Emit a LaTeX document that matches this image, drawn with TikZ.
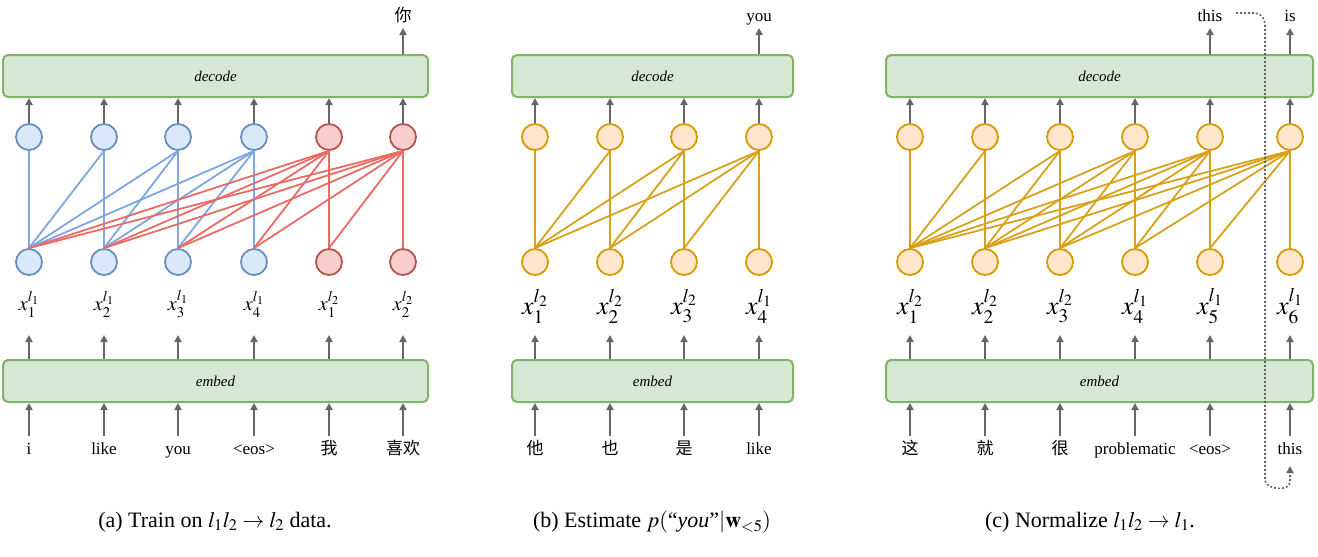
\documentclass[tikz,border=0pt]{standalone}
\usepackage{amsmath}
\usepackage{mathptmx}
\usepackage{fontspec}
\setmainfont{Liberation Serif}
\newfontfamily\cjk{Noto Sans CJK SC}
\usetikzlibrary{arrows.meta}
\definecolor{gfill}{HTML}{D5E8D4}\definecolor{gdraw}{HTML}{82B366}
\definecolor{bfill}{HTML}{DAE8FC}\definecolor{bdraw}{HTML}{6C8EBF}\definecolor{bline}{HTML}{7EA6E0}
\definecolor{rfill}{HTML}{F8CECC}\definecolor{rdraw}{HTML}{B85450}\definecolor{rline}{HTML}{EA6B66}
\definecolor{ofill}{HTML}{FFE6CC}\definecolor{odraw}{HTML}{D79B00}\definecolor{oline}{HTML}{D7A21A}
\definecolor{agray}{HTML}{666666}
\tikzset{
 box/.style={draw=gdraw,fill=gfill,line width=2pt,rounded corners=5pt,minimum height=42pt,inner sep=0pt,font=\fontsize{15}{18}\selectfont\itshape},
 cb/.style={circle,draw=bdraw,fill=bfill,line width=1.8pt,minimum size=26pt,inner sep=0pt},
 cr/.style={circle,draw=rdraw,fill=rfill,line width=1.8pt,minimum size=26pt,inner sep=0pt},
 co/.style={circle,draw=odraw,fill=ofill,line width=1.8pt,minimum size=26pt,inner sep=0pt},
 arr/.style={draw=agray,line width=2pt,-{Triangle[length=7pt,width=7pt]}},
 word/.style={font=\fontsize{17}{20}\selectfont,text height=12pt,text depth=4pt,inner sep=0pt},
 xs/.style={font=\fontsize{20}{24}\selectfont,inner sep=0pt},
 xl/.style={font=\fontsize{26}{30}\selectfont,inner sep=0pt},
 captxt/.style={font=\fontsize{22}{26}\selectfont,inner sep=0pt},
}
\begin{document}
\begin{tikzpicture}[x=1pt,y=-1pt]
\useasboundingbox (0,0) rectangle (1318,557);
% ===== panel a =====
\node[box,minimum width=425pt] (a-dec) at (215.5,76) {decode};
\node[box,minimum width=425pt] (a-emb) at (215.5,381) {embed};
\foreach \x [count=\i] in {29,104,178,254,329,403}{
  \ifnum\i<5 \def\st{cb}\else\def\st{cr}\fi
  \node[\st] (a-t\i) at (\x,137) {};
  \node[\st] (a-b\i) at (\x,262) {};
  \draw[arr] (a-t\i) -- (a-t\i |- a-dec.south);
}
\foreach \i/\s/\l in {1/1/1,2/2/1,3/3/1,4/4/1,5/1/2,6/2/2}{
  \node[xs] (a-x\i) at (a-t\i |- 0,304) {$x_{\s}^{l_{\l}}$};
  \draw[arr] (a-emb.north -| a-x\i) -- ++(0,-24);
}
\foreach \i/\w in {1/i,2/like,3/you,4/<eos>,5/{\cjk 我},6/{\cjk 喜欢}}{
  \node[word] (a-w\i) at (a-t\i |- 0,450) {\w};
  \draw[arr] (a-w\i.north) ++(0,-6) coordinate (a-c\i) -- (a-c\i |- a-emb.south);
}
\foreach \j in {1,...,6}{\foreach \i in {1,...,\j}{
  \ifnum\j<5 \def\lc{bline}\else\def\lc{rline}\fi
  \draw[\lc,line width=1.8pt] (a-t\j.south) -- (a-b\i.north);}}
\draw[arr] (a-dec.north -| a-t6) -- ++(0,-26) node[word,above=2pt] (a-o) {\cjk 你};
\node[captxt] (a-cap) at (215,522) {(a) Train on $l_1l_2\rightarrow l_2$ data.};
% ===== panel b =====
\node[box,minimum width=281pt] (b-dec) at (652.5,76) {decode};
\node[box,minimum width=281pt] (b-emb) at (652.5,381) {embed};
\foreach \x [count=\i] in {535,610,684,759}{
  \node[co] (b-t\i) at (\x,137) {};
  \node[co] (b-b\i) at (\x,262) {};
  \draw[arr] (b-t\i) -- (b-t\i |- b-dec.south);
}
\foreach \i/\s/\l in {1/1/2,2/2/2,3/3/2,4/4/1}{
  \node[xl] (b-x\i) at (b-t\i |- 0,306) {$x_{\s}^{l_{\l}}$};
  \draw[arr] (b-emb.north -| b-x\i) -- ++(0,-24);
}
\foreach \i/\w in {1/{\cjk 他},2/{\cjk 也},3/{\cjk 是},4/like}{
  \node[word] (b-w\i) at (b-t\i |- 0,450) {\w};
  \draw[arr] (b-w\i.north) ++(0,-6) coordinate (b-c\i) -- (b-c\i |- b-emb.south);
}
\foreach \j in {1,...,4}{\foreach \i in {1,...,\j}{
  \draw[oline,line width=1.8pt] (b-t\j.south) -- (b-b\i.north);}}
\draw[arr] (b-dec.north -| b-t4) -- ++(0,-26) node[word,above=2pt] (b-o) {you};
\node[captxt] (b-cap) at (652,522) {(b) Estimate $p(\text{``\textit{you}''}|\mathbf{w}_{<5})$};
% ===== panel c =====
\node[box,minimum width=427pt] (c-dec) at (1099.5,76) {decode};
\node[box,minimum width=427pt] (c-emb) at (1099.5,381) {embed};
\foreach \x [count=\i] in {910,985,1060,1135,1210,1290}{
  \node[co] (c-t\i) at (\x,137) {};
  \node[co] (c-b\i) at (\x,262) {};
  \draw[arr] (c-t\i) -- (c-t\i |- c-dec.south);
}
\foreach \i/\s/\l in {1/1/2,2/2/2,3/3/2,4/4/1,5/5/1,6/6/1}{
  \node[xl] (c-x\i) at (c-t\i |- 0,306) {$x_{\s}^{l_{\l}}$};
  \draw[arr] (c-emb.north -| c-x\i) -- ++(0,-24);
}
\foreach \i/\w in {1/{\cjk 这},2/{\cjk 就},3/{\cjk 很},4/problematic,5/<eos>,6/this}{
  \node[word] (c-w\i) at (c-t\i |- 0,450) {\w};
  \draw[arr] (c-w\i.north) ++(0,-6) coordinate (c-c\i) -- (c-c\i |- c-emb.south);
}
\foreach \j in {1,...,6}{\foreach \i in {1,...,\j}{
  \draw[oline,line width=1.8pt] (c-t\j.south) -- (c-b\i.north);}}
\draw[arr] (c-dec.north -| c-t5) -- ++(0,-26) node[word,above=2pt] (c-o1) {this};
\draw[arr] (c-dec.north -| c-t6) -- ++(0,-26) node[word,above=2pt] (c-o2) {is};
\coordinate (c-s) at (1236,13);
\coordinate (c-d) at (1290,466);
\draw[agray,line width=1.6pt,dash pattern=on 2pt off 2pt,-{Triangle[length=7pt,width=7pt]}]
  (c-s) -- (1255,13) to[out=0,in=90] (1265,25) -- (1265,480)
  to[out=-90,in=-90] (1290,482) -- (c-d);
\node[captxt] (c-cap) at (1090,522) {(c) Normalize $l_1l_2\rightarrow l_1$.};
\end{tikzpicture}
\end{document}
